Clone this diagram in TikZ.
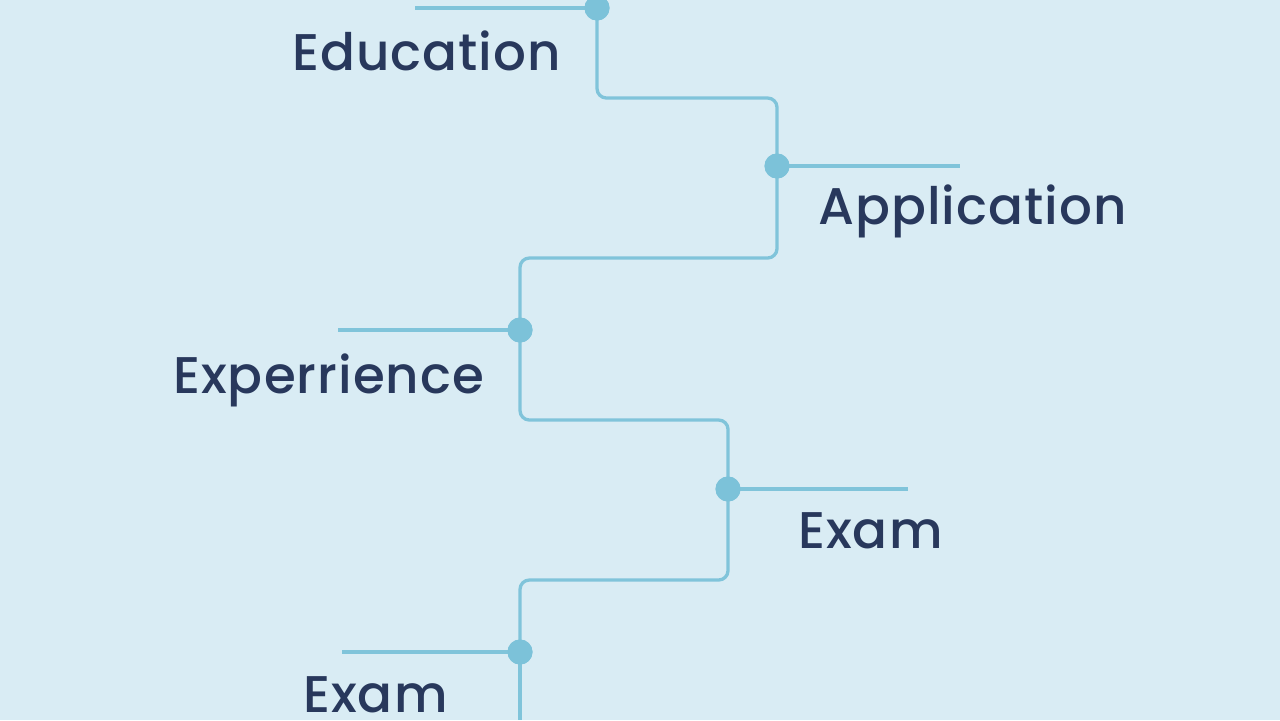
\documentclass[tikz,border=0pt]{standalone}
\usepackage{fontspec}
\setmainfont{Poppins}[UprightFont=* Medium,LetterSpace=2]
\usepackage{xcolor}
\usepackage{tikz}
\usetikzlibrary{positioning,calc}
\definecolor{PathBlue}{RGB}{128,196,218}
\definecolor{DotBlue}{RGB}{124,194,217}
\definecolor{SkyBack}{RGB}{217,236,244}
\definecolor{InkNavy}{RGB}{40,56,92}

\begin{document}
\begin{tikzpicture}[
                x=0.03cm, y=-0.03cm,
                dot/.style={circle, fill=DotBlue, inner sep=0pt, minimum size=0.75cm},
                label/.style={anchor=base west, inner sep=0pt, text=InkNavy, font=\fontsize{44}{50}\selectfont},
                tick/.style={draw=PathBlue, line width=2.8pt},
                stair/.style={draw=PathBlue, line width=2.8pt, rounded corners=8pt}
            ]
                % Background
                \fill[SkyBack] (0,0) rectangle (1280,720);
                \useasboundingbox (0,0) rectangle (1280,720);
                % Dots
                \coordinate (top) at (597,0);
                \coordinate (bottom) at (520,720);
                \node[dot] (d1) at (597,8) {};
                \node[dot] (d2) at (777,166) {};
                \node[dot] (d3) at (520,330) {};
                \node[dot] (d4) at (728,489) {};
                \node[dot] (d5) at (520,652) {};
                % Tick ends
                \coordinate (t1) at (415,8);
                \coordinate (t2) at (960,166);
                \coordinate (t3) at (338,330);
                \coordinate (t4) at (908,489);
                \coordinate (t5) at (342,652);

                % Connectors
                \draw[stair] (top) -- (d1.center) -- ++(0,90) -| (d2.center);
                \draw[stair] (d2.center) -- ++(0,92) -| (d3.center);
                \draw[stair] (d3.center) -- ++(0,90) -| (d4.center);
                \draw[stair] (d4.center) -- ++(0,91) -| (d5.center);
                \draw[stair] (d5.center) -- (bottom);
                \draw[tick] (d1.center) -- (t1);
                \draw[tick] (d2.center) -- (t2);
                \draw[tick] (d3.center) -- (t3);
                \draw[tick] (d4.center) -- (t4);
                \draw[tick] (d5.center) -- (t5);
                \foreach \d in {d1,d2,d3,d4,d5} \fill[DotBlue] (\d) circle (0.375cm);

                % Labels
                \node[label] (education) at (292,70) {Education};
                \node[label] (application) at (818,224) {Application};
                \node[label] (experience) at (173,393) {Experrience};
                \node[label] (exam1) at (798,548) {Exam};
                \node[label] (exam2) at (303,712) {Exam};

            \end{tikzpicture}
\end{document}
